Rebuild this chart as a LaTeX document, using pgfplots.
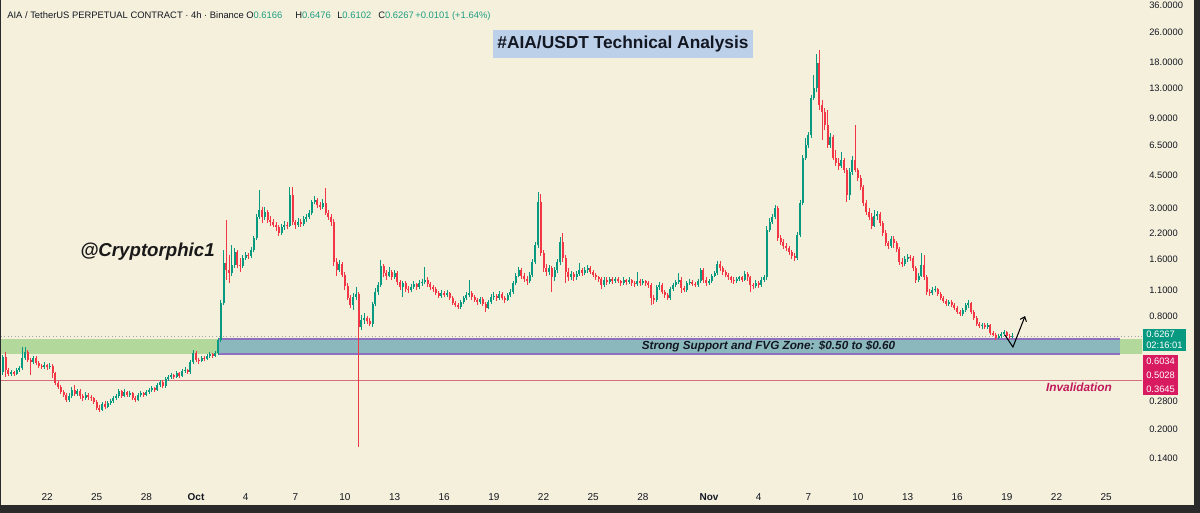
\documentclass[border=0pt]{standalone}
\usepackage{fontspec}
\setmainfont{Liberation Sans}
\usepackage{pgfplots}
\usepackage{pgfplotstable}
\pgfplotsset{compat=1.18}
\usetikzlibrary{arrows.meta}
\definecolor{bgcol}{HTML}{F5F0DC}
\definecolor{upcol}{HTML}{089981}
\definecolor{downcol}{HTML}{F23645}
\definecolor{zonegreen}{HTML}{B3D89C}
\definecolor{zoneblue}{HTML}{8AB8BC}
\definecolor{zoneline}{HTML}{8E6FC0}
\definecolor{invcol}{HTML}{D4707E}
\definecolor{invtext}{HTML}{C2185B}
\definecolor{titlebox}{HTML}{BDD0EA}
\definecolor{framecol}{HTML}{2A2A2A}
\definecolor{hdrgreen}{HTML}{1E9E82}
\definecolor{txtcol}{HTML}{131722}
\definecolor{pricered}{HTML}{D81B60}

% 4h candles: k = candle index (6 per day, k=0 is 1 Oct 00:00), open, high, low, close
\pgfplotstableread{
k o h l c
-70 0.403 0.496 0.388 0.484
-69 0.484 0.515 0.379 0.413
-68 0.413 0.423 0.384 0.393
-67 0.393 0.413 0.384 0.403
-66 0.403 0.408 0.384 0.393
-65 0.393 0.423 0.388 0.413
-64 0.413 0.434 0.403 0.423
-63 0.423 0.547 0.413 0.478
-62 0.478 0.547 0.467 0.515
-61 0.515 0.527 0.455 0.467
-60 0.467 0.478 0.388 0.455
-59 0.455 0.490 0.444 0.478
-58 0.478 0.490 0.439 0.450
-57 0.450 0.461 0.423 0.434
-56 0.434 0.444 0.418 0.428
-55 0.428 0.455 0.418 0.439
-54 0.439 0.444 0.413 0.428
-53 0.428 0.450 0.418 0.434
-52 0.434 0.444 0.374 0.398
-51 0.398 0.403 0.344 0.352
-50 0.352 0.361 0.327 0.335
-49 0.335 0.344 0.308 0.315
-48 0.315 0.323 0.297 0.304
-47 0.304 0.311 0.279 0.286
-46 0.286 0.311 0.279 0.300
-45 0.300 0.335 0.293 0.323
-44 0.323 0.344 0.300 0.308
-43 0.308 0.327 0.300 0.319
-42 0.319 0.327 0.289 0.300
-41 0.300 0.308 0.282 0.293
-40 0.293 0.315 0.286 0.304
-39 0.304 0.311 0.286 0.297
-38 0.297 0.304 0.282 0.293
-37 0.293 0.297 0.272 0.279
-36 0.279 0.286 0.253 0.259
-35 0.259 0.269 0.247 0.253
-34 0.253 0.279 0.250 0.272
-33 0.272 0.282 0.256 0.262
-32 0.262 0.282 0.259 0.276
-31 0.276 0.289 0.269 0.282
-30 0.282 0.300 0.276 0.293
-29 0.293 0.308 0.286 0.300
-28 0.300 0.327 0.293 0.319
-27 0.319 0.323 0.293 0.300
-26 0.300 0.327 0.297 0.315
-25 0.315 0.319 0.297 0.304
-24 0.304 0.319 0.297 0.311
-23 0.311 0.315 0.286 0.293
-22 0.293 0.300 0.279 0.286
-21 0.286 0.311 0.282 0.304
-20 0.304 0.319 0.297 0.311
-19 0.311 0.315 0.297 0.304
-18 0.304 0.323 0.300 0.315
-17 0.315 0.331 0.308 0.323
-16 0.323 0.339 0.315 0.331
-15 0.331 0.335 0.315 0.323
-14 0.323 0.352 0.319 0.344
-13 0.344 0.365 0.335 0.356
-12 0.356 0.365 0.331 0.339
-11 0.339 0.379 0.331 0.370
-10 0.370 0.388 0.361 0.379
-9 0.379 0.398 0.370 0.388
-8 0.388 0.393 0.370 0.379
-7 0.379 0.408 0.374 0.398
-6 0.398 0.403 0.374 0.384
-5 0.384 0.418 0.379 0.408
-4 0.408 0.428 0.398 0.413
-3 0.413 0.418 0.393 0.403
-2 0.403 0.467 0.393 0.455
-1 0.455 0.527 0.444 0.508
0 0.508 0.521 0.455 0.467
1 0.467 0.478 0.444 0.461
2 0.461 0.490 0.455 0.478
3 0.478 0.490 0.461 0.472
4 0.472 0.502 0.467 0.490
5 0.490 0.515 0.478 0.502
6 0.502 0.508 0.478 0.490
7 0.490 0.521 0.484 0.508
8 0.508 0.611 0.496 0.596
9 0.596 0.973 0.582 0.938
10 0.938 1.796 0.915 1.532
11 1.532 2.595 1.244 1.406
12 1.406 1.690 1.199 1.355
13 1.355 1.910 1.306 1.495
14 1.495 1.841 1.441 1.752
15 1.752 1.796 1.441 1.495
16 1.495 1.629 1.372 1.477
17 1.477 1.690 1.441 1.629
18 1.629 1.752 1.589 1.690
19 1.690 1.731 1.609 1.669
20 1.669 1.864 1.629 1.796
21 1.796 2.132 1.752 2.081
22 2.081 2.792 2.031 2.691
23 2.691 3.747 2.626 2.933
24 2.933 3.042 2.501 2.691
25 2.691 3.042 2.595 2.862
26 2.862 2.933 2.501 2.595
27 2.595 2.724 2.410 2.532
28 2.532 2.626 2.381 2.440
29 2.440 2.532 2.267 2.381
30 2.381 2.440 2.132 2.212
31 2.212 2.471 2.159 2.381
32 2.381 2.563 2.295 2.440
33 2.440 2.532 2.323 2.410
34 2.410 3.887 2.381 3.525
35 3.525 3.887 2.440 2.532
36 2.532 2.595 2.323 2.440
37 2.440 2.658 2.381 2.532
38 2.532 2.626 2.381 2.471
39 2.471 2.724 2.410 2.626
40 2.626 2.792 2.532 2.691
41 2.691 2.933 2.626 2.827
42 2.827 3.315 2.758 3.234
43 3.234 3.482 3.156 3.315
44 3.315 3.397 3.005 3.118
45 3.118 3.234 2.933 3.042
46 3.042 3.356 2.969 3.195
47 3.195 3.840 2.758 2.827
48 2.827 2.933 2.595 2.691
49 2.691 2.792 2.410 2.532
50 2.532 2.626 1.477 1.550
51 1.550 1.629 1.306 1.406
52 1.406 1.589 1.372 1.513
53 1.513 1.550 1.290 1.322
54 1.322 1.372 1.100 1.156
55 1.156 1.199 0.973 0.998
56 0.998 1.035 0.882 0.915
57 0.915 1.060 0.861 1.010
58 1.010 1.141 0.973 1.047
59 1.047 1.073 0.161 0.699
60 0.699 0.810 0.674 0.762
61 0.762 0.830 0.725 0.781
62 0.781 0.800 0.725 0.752
63 0.752 0.781 0.708 0.725
64 0.725 0.950 0.699 0.927
65 0.927 1.128 0.904 1.073
66 1.073 1.214 1.035 1.170
67 1.170 1.589 1.141 1.477
68 1.477 1.513 1.290 1.355
69 1.355 1.406 1.244 1.306
70 1.306 1.459 1.290 1.372
71 1.372 1.406 1.244 1.290
72 1.290 1.406 1.259 1.355
73 1.355 1.389 1.170 1.214
74 1.214 1.244 1.100 1.141
75 1.141 1.229 1.010 1.199
76 1.199 1.229 1.073 1.114
77 1.114 1.156 1.060 1.100
78 1.100 1.184 1.073 1.141
79 1.141 1.229 1.114 1.184
80 1.184 1.199 1.100 1.141
81 1.141 1.244 1.114 1.199
82 1.199 1.259 1.156 1.214
83 1.214 1.459 1.184 1.244
84 1.244 1.290 1.141 1.184
85 1.184 1.214 1.100 1.141
86 1.141 1.170 1.073 1.114
87 1.114 1.141 1.035 1.060
88 1.060 1.087 0.998 1.022
89 1.022 1.100 0.998 1.060
90 1.060 1.087 1.010 1.035
91 1.035 1.100 1.010 1.060
92 1.060 1.073 0.973 0.998
93 0.998 1.022 0.915 0.938
94 0.938 0.961 0.893 0.915
95 0.915 0.938 0.872 0.893
96 0.893 0.973 0.872 0.950
97 0.950 1.022 0.927 0.998
98 0.998 1.073 0.973 1.035
99 1.035 1.244 1.010 1.060
100 1.060 1.087 0.973 1.010
101 1.010 1.035 0.950 0.973
102 0.973 0.998 0.915 0.950
103 0.950 1.010 0.927 0.985
104 0.985 1.010 0.904 0.927
105 0.927 0.950 0.840 0.882
106 0.882 0.973 0.872 0.950
107 0.950 1.047 0.927 1.010
108 1.010 1.073 0.973 1.022
109 1.022 1.047 0.961 0.998
110 0.998 1.087 0.973 1.047
111 1.047 1.073 0.973 0.998
112 0.998 1.022 0.938 0.973
113 0.973 1.060 0.961 1.035
114 1.035 1.114 1.010 1.073
115 1.073 1.229 1.047 1.199
116 1.199 1.355 1.170 1.306
117 1.306 1.459 1.290 1.406
118 1.406 1.441 1.259 1.306
119 1.306 1.355 1.214 1.259
120 1.259 1.306 1.170 1.229
121 1.229 1.372 1.199 1.322
122 1.322 1.609 1.290 1.550
123 1.550 1.982 1.513 1.910
124 1.910 3.656 1.841 3.234
125 3.234 3.568 1.669 1.731
126 1.731 1.796 1.372 1.441
127 1.441 1.513 1.306 1.372
128 1.372 1.495 1.322 1.441
129 1.441 1.477 1.073 1.290
130 1.290 1.459 1.229 1.406
131 1.406 1.609 1.355 1.550
132 1.550 2.106 1.495 1.982
133 1.982 2.212 1.550 1.629
134 1.629 1.690 1.199 1.372
135 1.372 1.441 1.229 1.290
136 1.290 1.389 1.244 1.339
137 1.339 1.372 1.229 1.290
138 1.290 1.389 1.244 1.339
139 1.339 1.532 1.306 1.406
140 1.406 1.441 1.306 1.355
141 1.355 1.459 1.322 1.406
142 1.406 1.495 1.355 1.441
143 1.441 1.477 1.339 1.372
144 1.372 1.406 1.290 1.322
145 1.322 1.355 1.244 1.290
146 1.290 1.306 1.214 1.259
147 1.259 1.290 1.114 1.170
148 1.170 1.290 1.141 1.244
149 1.244 1.290 1.170 1.214
150 1.214 1.290 1.184 1.259
151 1.259 1.290 1.184 1.229
152 1.229 1.290 1.199 1.259
153 1.259 1.290 1.199 1.229
154 1.229 1.244 1.156 1.199
155 1.199 1.290 1.170 1.244
156 1.244 1.259 1.170 1.214
157 1.214 1.290 1.184 1.244
158 1.244 1.259 1.156 1.199
159 1.199 1.229 1.141 1.184
160 1.184 1.372 1.156 1.229
161 1.229 1.259 1.156 1.199
162 1.199 1.259 1.170 1.229
163 1.229 1.244 1.156 1.199
164 1.199 1.229 1.128 1.170
165 1.170 1.199 0.915 0.998
166 0.998 1.035 0.927 0.973
167 0.973 1.170 0.950 1.141
168 1.141 1.214 1.100 1.170
169 1.170 1.199 1.047 1.073
170 1.073 1.100 0.998 1.035
171 1.035 1.060 0.973 0.998
172 0.998 1.141 0.973 1.114
173 1.114 1.199 1.087 1.170
174 1.170 1.244 1.141 1.214
175 1.214 1.355 1.184 1.244
176 1.244 1.290 1.060 1.128
177 1.128 1.156 1.073 1.100
178 1.100 1.229 1.073 1.199
179 1.199 1.259 1.170 1.214
180 1.214 1.244 1.156 1.184
181 1.184 1.214 1.141 1.170
182 1.170 1.259 1.141 1.229
183 1.229 1.441 1.199 1.406
184 1.406 1.441 1.199 1.244
185 1.244 1.290 1.156 1.199
186 1.199 1.259 1.170 1.229
187 1.229 1.339 1.199 1.306
188 1.306 1.389 1.290 1.355
189 1.355 1.570 1.322 1.513
190 1.513 1.570 1.389 1.441
191 1.441 1.477 1.322 1.372
192 1.372 1.406 1.290 1.322
193 1.322 1.355 1.244 1.290
194 1.290 1.306 1.199 1.244
195 1.244 1.290 1.184 1.229
196 1.229 1.290 1.199 1.259
197 1.259 1.306 1.229 1.290
198 1.290 1.306 1.214 1.244
199 1.244 1.389 1.229 1.339
200 1.339 1.372 1.229 1.290
201 1.290 1.306 1.073 1.170
202 1.170 1.199 1.114 1.156
203 1.156 1.244 1.128 1.199
204 1.199 1.229 1.128 1.170
205 1.170 1.290 1.141 1.244
206 1.244 1.322 1.214 1.290
207 1.290 2.410 1.244 2.295
208 2.295 2.658 2.239 2.532
209 2.532 2.792 2.471 2.691
210 2.691 3.118 2.626 3.005
211 3.005 3.080 2.006 2.081
212 2.081 2.159 1.910 1.982
213 1.982 2.056 1.818 1.886
214 1.886 1.958 1.774 1.841
215 1.841 1.886 1.690 1.752
216 1.752 1.796 1.609 1.669
217 1.669 1.731 1.570 1.629
218 1.629 2.239 1.589 2.159
219 2.159 3.315 2.106 3.195
220 3.195 5.754 3.118 5.546
221 5.546 7.086 5.412 6.504
222 6.504 7.627 6.269 7.352
223 7.352 12.00 7.086 11.57
224 11.57 15.34 11.29 13.08
225 13.08 19.84 12.45 17.76
226 17.76 20.84 9.99 10.62
227 10.62 11.29 6.92 9.75
228 9.75 10.24 7.82 8.31
229 8.31 9.99 6.27 6.50
230 6.50 7.53 6.27 7.17
231 7.17 7.35 5.41 5.55
232 5.55 6.12 5.03 5.22
233 5.22 5.55 4.79 5.03
234 5.03 5.97 4.91 5.41
235 5.41 5.55 4.62 4.79
236 4.79 4.91 3.23 3.53
237 3.53 4.91 3.32 4.67
238 4.67 5.68 4.50 5.41
239 5.41 8.31 4.67 4.79
240 4.79 4.91 4.18 4.34
241 4.34 4.50 3.75 3.89
242 3.89 3.98 3.08 3.20
243 3.20 3.32 2.76 2.86
244 2.86 3.01 2.60 2.69
245 2.69 2.83 2.32 2.41
246 2.41 2.93 2.38 2.72
247 2.72 2.90 2.60 2.79
248 2.79 2.86 2.41 2.50
249 2.50 2.56 2.13 2.21
250 2.21 2.30 1.89 1.96
251 1.96 2.01 1.82 1.89
252 1.89 2.13 1.84 2.06
253 2.06 2.13 1.84 1.96
254 1.96 2.01 1.75 1.82
255 1.82 1.86 1.50 1.55
256 1.55 1.63 1.46 1.51
257 1.51 1.67 1.48 1.61
258 1.61 1.71 1.55 1.65
259 1.65 1.69 1.57 1.63
260 1.63 1.67 1.39 1.44
261 1.44 1.48 1.20 1.24
262 1.24 1.36 1.21 1.31
263 1.31 1.73 1.29 1.50
264 1.50 1.69 1.24 1.29
265 1.29 1.32 1.04 1.07
266 1.07 1.11 1.02 1.06
267 1.06 1.14 1.04 1.10
268 1.10 1.16 1.07 1.11
269 1.11 1.13 1.02 1.05
270 1.05 1.07 0.973 0.998
271 0.998 1.02 0.938 0.961
272 0.961 0.985 0.904 0.927
273 0.927 0.973 0.904 0.950
274 0.950 0.973 0.893 0.915
275 0.915 0.938 0.861 0.882
276 0.882 0.904 0.820 0.840
277 0.840 0.861 0.800 0.820
278 0.820 0.882 0.800 0.861
279 0.861 0.938 0.840 0.915
280 0.915 0.973 0.882 0.938
281 0.938 0.950 0.820 0.840
282 0.840 0.861 0.762 0.781
283 0.781 0.800 0.708 0.725
284 0.725 0.743 0.691 0.708
285 0.708 0.734 0.682 0.717
286 0.717 0.734 0.682 0.699
287 0.699 0.734 0.682 0.717
288 0.717 0.725 0.634 0.650
289 0.650 0.666 0.626 0.634
290 0.634 0.650 0.596 0.611
291 0.611 0.642 0.604 0.626
292 0.626 0.658 0.611 0.642
293 0.642 0.674 0.626 0.658
294 0.658 0.664 0.611 0.626
295 0.626 0.642 0.604 0.617
296 0.6166 0.6476 0.6102 0.6267
}\candles

% split the candles into rising / falling wick and body segments
\pgfplotstablegetrowsof{\candles}
\pgfmathtruncatemacro\lastrow{\pgfplotsretval-1}
\gdef\upW{}\gdef\upB{}\gdef\dnW{}\gdef\dnB{}
\pgfplotsforeachungrouped \i in {0,...,\lastrow}{%
  \pgfplotstablegetelem{\i}{k}\of\candles\let\cK\pgfplotsretval
  \pgfplotstablegetelem{\i}{o}\of\candles\let\cO\pgfplotsretval
  \pgfplotstablegetelem{\i}{h}\of\candles\let\cH\pgfplotsretval
  \pgfplotstablegetelem{\i}{l}\of\candles\let\cL\pgfplotsretval
  \pgfplotstablegetelem{\i}{c}\of\candles\let\cC\pgfplotsretval
  \pgfmathtruncatemacro\isup{\cC>=\cO}%
  \ifnum\isup=1
    \xdef\upW{\upW (\cK,\cL) (\cK,\cH) (\cK,nan)}%
    \xdef\upB{\upB (\cK,\cO) (\cK,\cC) (\cK,nan)}%
  \else
    \xdef\dnW{\dnW (\cK,\cL) (\cK,\cH) (\cK,nan)}%
    \xdef\dnB{\dnB (\cK,\cO) (\cK,\cC) (\cK,nan)}%
  \fi
}

\begin{document}
\begin{tikzpicture}[x=1pt,y=1pt]
\path[use as bounding box] (0,0) rectangle (900,384.75);
\fill[bgcol] (0,0) rectangle (900,384.75);
\begin{axis}[
  at={(0pt,22.5pt)}, anchor=south west,
  scale only axis, width=856.5pt, height=362.25pt,
  xmin=-71.07, xmax=343.0, ymin=0.1034, ymax=38.46,
  ymode=log,
  axis line style={draw=none},
  tick style={draw=none},
  major tick length=0pt, minor tick length=0pt,
  xtick={-54,-36,-18,0,18,36,54,72,90,108,126,144,162,186,204,222,240,258,276,294,312,330},
  xticklabels={22,25,28,\textbf{Oct},4,7,10,13,16,19,22,25,28,\textbf{Nov},4,7,10,13,16,19,22,25},
  ytick={0.14,0.2,0.28,0.8,1.1,1.6,2.2,3,4.5,6.5,9,13,18,26,36},
  yticklabels={0.1400,0.2000,0.2800,0.8000,1.1000,1.6000,2.2000,3.0000,4.5000,6.5000,9.0000,13.0000,18.0000,26.0000,36.0000},
  yticklabel pos=right,
  xticklabel style={font=\fontsize{7.5}{9}\selectfont, text=txtcol, anchor=center, yshift=-10.5pt},
  yticklabel style={font=\fontsize{7}{8}\selectfont, text=txtcol, anchor=west, inner sep=0pt, xshift=5.25pt},
  unbounded coords=jump,
]
% support zone (green band across the chart, blue-teal FVG box on top)
\addplot[fill=zonegreen, draw=none] coordinates {(-72,0.5028) (343.5,0.5028) (343.5,0.6034) (-72,0.6034)};
\addplot[fill=zoneblue, draw=none] coordinates {(8,0.5028) (335,0.5028) (335,0.6034) (8,0.6034)};
\addplot[zoneline, line width=1.1pt] coordinates {(8,0.6034) (335,0.6034)};
\addplot[zoneline, line width=1.1pt] coordinates {(8,0.5028) (335,0.5028)};
% last price and invalidation levels
\addplot[gray!70, dotted, line width=0.6pt] coordinates {(-72,0.6267) (343.5,0.6267)};
\addplot[invcol, line width=0.9pt] coordinates {(-72,0.3645) (343.5,0.3645)};
% candles
\edef\doplots{%
\noexpand\addplot[upcol, line width=0.7pt] coordinates {\upW};
\noexpand\addplot[upcol, line width=1.5pt] coordinates {\upB};
\noexpand\addplot[downcol, line width=0.7pt] coordinates {\dnW};
\noexpand\addplot[downcol, line width=1.5pt] coordinates {\dnB};
}\doplots
% projected bounce arrow
\addplot[black, line width=0.8pt, -{Straight Barb[length=3pt,width=5pt]}] coordinates {(293.3,0.634) (296.2,0.547) (300.6,0.800)};
\end{axis}

% header line
\begin{scope}[every node/.style={anchor=base west, inner sep=0pt, font=\fontsize{7.05}{8}\selectfont, text=txtcol}]
\node at (5.25,371) {AIA / TetherUS PERPETUAL CONTRACT · 4h · Binance};
\node at (184.5,371) {O\textcolor{hdrgreen}{0.6166}};
\node at (221.25,371) {H\textcolor{hdrgreen}{0.6476}};
\node at (252.75,371) {L\textcolor{hdrgreen}{0.6102}};
\node at (283.5,371) {C\textcolor{hdrgreen}{0.6267}};
\node at (311.25,371) {\textcolor{hdrgreen}{+0.0101 (+1.64\%)}};
\end{scope}

% title
\node[fill=titlebox, inner xsep=3pt, minimum height=21pt, font=\bfseries\fontsize{13}{15}\selectfont, text=txtcol] at (467.25,351.75) {\#AIA/USDT Technical Analysis};
% watermark
\node[font=\bfseries\itshape\fontsize{14}{16}\selectfont, text=black!90] at (110.6,195.75) {@Cryptorphic1};
% zone label
\node[font=\bfseries\itshape\fontsize{8.8}{10}\selectfont, text=txtcol] at (576.4,125.25) {Strong Support and FVG Zone: \$0.50 to \$0.60};
% invalidation label
\node[font=\bfseries\itshape\fontsize{8.9}{10}\selectfont, text=invtext] at (809.25,94.5) {Invalidation};

% price scale boxes
\node[fill=upcol, text=white, anchor=north west, align=left, inner xsep=2.25pt, inner ysep=1.6pt, font=\fontsize{7}{8.25}\selectfont] at (857.25,138) {0.6267\\02:16:01};
\node[fill=pricered, text=white, anchor=north west, align=left, inner xsep=2.25pt, inner ysep=1.8pt, font=\fontsize{7}{10.5}\selectfont] at (857.25,118.5) {0.6034\\0.5028\\0.3645};

% window frame
\fill[framecol] (0,0) rectangle (900,6);
\fill[framecol] (895.5,0) rectangle (900,384.75);
\fill[framecol] (0,0) rectangle (0.75,384.75);
\end{tikzpicture}
\end{document}
